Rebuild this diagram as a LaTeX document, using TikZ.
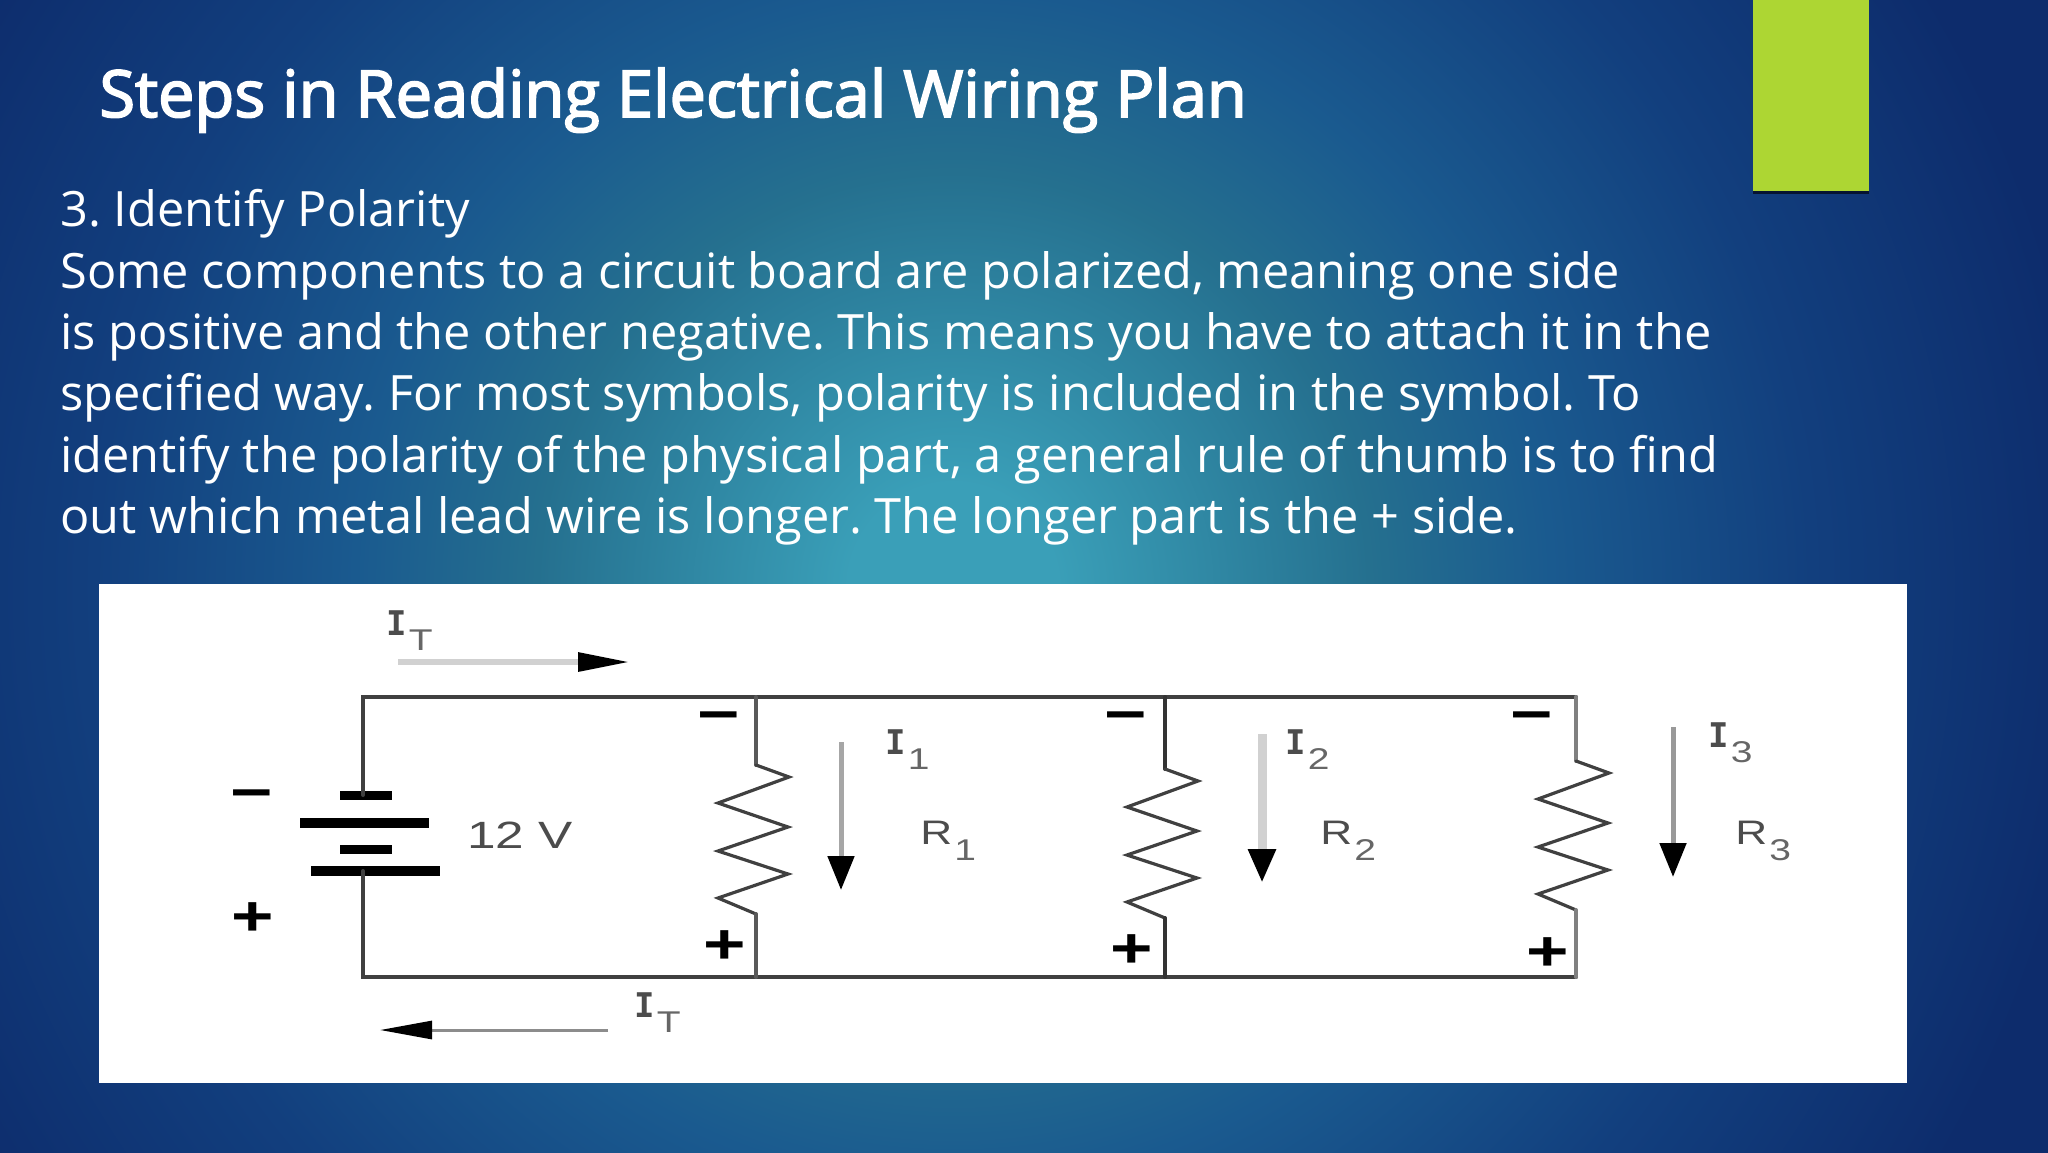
\documentclass[tikz,border=0pt]{standalone}
\usepackage{fontspec}
\setmainfont{Open Sans}
\newfontfamily\titlefont[FakeBold=2.6]{Open Sans}
\newfontfamily\circuitfont{Liberation Sans}
\newfontfamily\slabfont{DejaVu Sans Mono}
\usetikzlibrary{positioning,arrows.meta}
\definecolor{backmid}{HTML}{3A9FB8}
\definecolor{backtwo}{HTML}{25708F}
\definecolor{backthree}{HTML}{1A5A8F}
\definecolor{backfour}{HTML}{123F7E}
\definecolor{backfive}{HTML}{0D2C6C}
\definecolor{tabgreen}{HTML}{ADD633}
\pgfdeclareradialshading{slideback}{\pgfpointorigin}{
  color(0bp)=(backmid); color(2bp)=(backmid); color(8bp)=(backtwo);
  color(11.5bp)=(backthree); color(16.5bp)=(backfour); color(22bp)=(backfive); color(100bp)=(backfive)}
\newcommand{\wide}[1]{\scalebox{1.3}[1]{#1}}
\newcommand{\lab}[2]{#1\kern1pt\raisebox{-0.45em}{\wide{\fontsize{15}{15}\selectfont\color{black!60}#2}}}
\newcommand{\slab}{{\slabfont\bfseries I}}
\tikzset{
  wire/.style = {draw=black!75, line width=2pt, line cap=round, line join=miter},
  zigzag/.style = {line width=1.6pt},
  polarity/.style = {inner sep=0pt, text=black, font=\circuitfont\bfseries\fontsize{28}{28}\selectfont},
  labeltext/.style = {inner sep=0pt, text=black!70, font=\circuitfont\fontsize{17}{17}\selectfont},
  current/.style = {line width=#1, -{Triangle[black,length=17pt,width=13pt]}},
  flatcurrent/.style = {line width=#1, -{Triangle[black,length=26pt,width=9pt]}}
}
\begin{document}
\begin{tikzpicture}[x=0.5pt, y=-0.5pt]
  \useasboundingbox (0,0) rectangle (2048,1152);
  \begin{scope}
    \clip (0,0) rectangle (2048,1152);
    \shade[shading=slideback] (953,588) circle [radius=1300];
  \end{scope}
  \fill[black!55!backfive] (1753,4) rectangle (1869,194);
  \fill[tabgreen] (1753,0) rectangle (1869,191);

  \node (Title) [anchor=base west, inner sep=0pt, text=white,
    font=\titlefont\fontsize{32.5}{40}\selectfont] at (99,117) {Steps in Reading Electrical Wiring Plan};
  \node (Body) [anchor=north west, inner sep=0pt, text=white, align=left,
    font=\frenchspacing\fontsize{24.35}{30.7}\selectfont] at (60,189) {3. Identify Polarity\\
    Some components to a circuit board are polarized, meaning one side\\
    is positive and the other negative. This means you have to attach it in the\\
    specified way. For most symbols, polarity is included in the symbol. To\\
    identify the polarity of the physical part, a general rule of thumb is to find\\
    out which metal lead wire is longer. The longer part is the + side.};

  \node (Board) [anchor=north west, inner sep=0pt, fill=white, minimum width=904pt, minimum height=249.5pt] at (99,584) {};

  % battery
  \node (PlateA) [inner sep=0pt, minimum width=26pt, minimum height=4.5pt, fill=black] at (366,795) {};
  \node (PlateB) [inner sep=0pt, minimum width=64.5pt, minimum height=5pt, fill=black] at (364,823) {};
  \node (PlateC) [inner sep=0pt, minimum width=26pt, minimum height=4.5pt, fill=black] at (366,849) {};
  \node (PlateD) [inner sep=0pt, minimum width=64.5pt, minimum height=5pt, fill=black] at (375,871) {};
  \coordinate (TopLeft) at (363,697);
  \coordinate (BotLeft) at (363,977);
  \coordinate (PlateAfoot) at (363,795);
  \coordinate (PlateDfoot) at (363,871);
  \coordinate (TopRight) at (1576,697);
  \coordinate (BotRight) at (1576,977);

  \draw[wire] (PlateAfoot) -- (TopLeft) -- (TopRight);
  \draw[wire] (PlateDfoot) -- (BotLeft) -- (BotRight);

  % resistors
  \foreach \rname/\rx/\ry/\rshade in {RA/756/765/65, RB/1165/769/80, RC/1576/761/50} {
    \coordinate (\rname top) at (\rx,697);
    \coordinate (\rname bot) at (\rx,977);
    \draw[wire, draw=black!\rshade] (\rname top) -- ++(0,\ry-697) coordinate (\rname a);
    \draw[wire, zigzag, draw=black!75] (\rname a)
      -- ++(33,12) -- ++(-71,26) -- ++(70,24) -- ++(-70,24) -- ++(70,23) -- ++(-70,24) -- ++(38,16) coordinate (\rname b);
    \draw[wire, draw=black!\rshade] (\rname b) -- (\rname bot);
  }

  % current arrows
  \coordinate (ItopA) at (398,662);
  \coordinate (ItopB) at (630,662);
  \coordinate (IbotA) at (608,1030);
  \coordinate (IbotB) at (380,1030);
  \coordinate (IoneA) at (841,742);
  \coordinate (IoneB) at (841,890);
  \coordinate (ItwoA) at (1262,734);
  \coordinate (ItwoB) at (1262,883);
  \coordinate (IthreeA) at (1673,727);
  \coordinate (IthreeB) at (1673,877);
  \draw[flatcurrent=3pt, black!18] (ItopA) -- (ItopB);
  \draw[flatcurrent=1.5pt, black!45] (IbotA) -- (IbotB);
  \draw[current=2.5pt, black!35] (IoneA) -- (IoneB);
  \draw[current=4.5pt, black!18] (ItwoA) -- (ItwoB);
  \draw[current=2.5pt, black!40] (IthreeA) -- (IthreeB);

  % labels
  \node (LabTop) [labeltext, anchor=north west] at (386,610) {\lab{\slab}{T}};
  \node (LabBot) [labeltext, anchor=north west] at (634,992) {\lab{\slab}{T}};
  \node (LabOne) [labeltext, anchor=north west] at (885,729) {\lab{\slab}{1}};
  \node (LabTwo) [labeltext, anchor=north west] at (1285,729) {\lab{\slab}{2}};
  \node (LabThree) [labeltext, anchor=north west] at (1708,722) {\lab{\slab}{3}};
  \node (LabROne) [labeltext, anchor=north west] at (920,821) {\lab{\wide{R}}{1}};
  \node (LabRTwo) [labeltext, anchor=north west] at (1320,821) {\lab{\wide{R}}{2}};
  \node (LabRThree) [labeltext, anchor=north west] at (1735,821) {\lab{\wide{R}}{3}};
  \node (Volt) [labeltext, anchor=north west] at (467,822) {\scalebox{1.35}[1]{\fontsize{19}{19}\selectfont 12 V}};

  \node (MinusBatt) [polarity] at (252,801) {\wide{−}};
  \node (PlusBatt) [polarity] at (253,919) {\wide{+}};
  \node (MinusA) [polarity] at (719,723) {\wide{−}};
  \node (PlusA) [polarity] at (725,947) {\wide{+}};
  \node (MinusB) [polarity] at (1126,723) {\wide{−}};
  \node (PlusB) [polarity] at (1132,951) {\wide{+}};
  \node (MinusC) [polarity] at (1532,723) {\wide{−}};
  \node (PlusC) [polarity] at (1548,954) {\wide{+}};
\end{tikzpicture}
\end{document}
